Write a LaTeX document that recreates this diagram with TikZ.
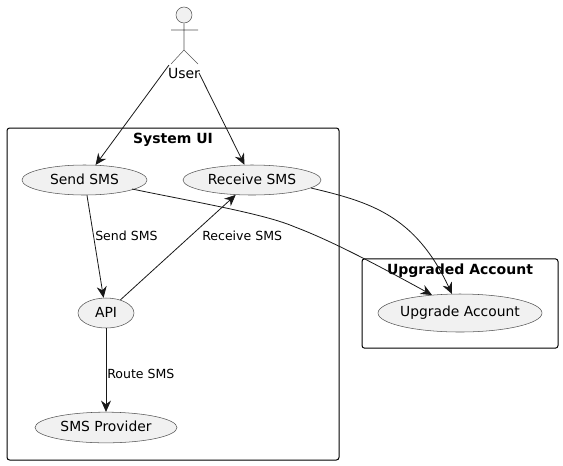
\documentclass[tikz,border=0pt]{standalone}
\usepackage{fontspec}
\setmainfont{DejaVu Sans}
\usetikzlibrary{arrows.meta,shapes.geometric}
\definecolor{ufill}{HTML}{F1F1F1}
\definecolor{uline}{HTML}{181818}
\definecolor{ushape}{HTML}{555555}
\newcommand{\uctext}[1]{\raisebox{1.5pt}{\makebox[0pt]{#1}}}
\tikzset{
 x=0.75pt,y=-0.75pt,
 usecase/.style={draw=ushape,fill=ufill,ellipse,line width=0.4pt,inner sep=0pt,font=\fontsize{10.4}{12}\selectfont},
 pack/.style={draw=black,rounded corners=2pt,line width=0.75pt,inner sep=0pt},
 title/.style={font=\bfseries\fontsize{10.5}{12}\selectfont,inner sep=0pt},
 lab/.style={font=\fontsize{9.4}{11}\selectfont,inner sep=0pt,anchor=west},
 conn/.style={draw=uline,line width=0.6pt,-{Stealth[length=8.5pt,width=7.5pt,inset=2.8pt]}}
}
\begin{document}
\begin{tikzpicture}
\useasboundingbox (0,0) rectangle (563,465);
\node[pack,minimum width=249pt,minimum height=249pt] (sys) at (173,294) {};
\node[pack,minimum width=147pt,minimum height=67pt] (upg) at (460,303.5) {};
\node[title] (systitle) at (173,140) {System UI};
\node[title] (upgtitle) at (460,271) {Upgraded Account};
\node[usecase,minimum width=93.75pt,minimum height=22.5pt] (send) at (84.5,180) {\uctext{Send SMS}};
\node[usecase,minimum width=103.5pt,minimum height=22.5pt] (recv) at (252,180) {\uctext{Receive SMS}};
\node[usecase,minimum width=42pt,minimum height=22.5pt] (api) at (106,313) {\uctext{API}};
\node[usecase,minimum width=106.5pt,minimum height=23pt] (prov) at (106,427.5) {\uctext{SMS Provider}};
\node[usecase,minimum width=123pt,minimum height=28.5pt] (acct) at (460,313) {\uctext{Upgrade Account}};
\node[circle,draw=ushape,fill=ufill,line width=0.4pt,minimum width=12pt,inner sep=0pt] (head) at (184,15) {};
\coordinate (hip) at (184,50);
\coordinate (la) at (171,30);
\coordinate (ra) at (198,30);
\coordinate (lf) at (171,64);
\coordinate (rf) at (198,64);
\draw[ushape,line width=0.4pt] (head.south) -- (hip) (la) -- (ra) (lf) -- (hip) -- (rf);
\node[font=\fontsize{10.5}{12}\selectfont,inner sep=0pt] (user) at (184,73) {User};
\coordinate (u1) at (169,65);
\coordinate (u2) at (199,73);
\coordinate (s0) at (132,189);
\coordinate (sm) at (295,227);
\coordinate (am) at (432,295);
\coordinate (r0) at (311,188);
\coordinate (bm) at (452,294);
\draw[conn] (u1) -- (send);
\draw[conn] (u2) -- (recv);
\draw[conn] (send) -- (api);
\draw[conn] (api) -- (recv);
\draw[conn] (api) -- (prov);
\node[lab] (l1) at (95,235.5) {Send SMS};
\node[lab] (l2) at (202,235.5) {Receive SMS};
\node[lab] (l3) at (107,373.5) {Route SMS};
\draw[conn] (s0) .. controls (200,203) and (265,214) .. (sm) .. controls (335,242) and (390,272) .. (am);
\draw[conn] (r0) .. controls (370,202) and (415,215) .. (bm);
\end{tikzpicture}
\end{document}
